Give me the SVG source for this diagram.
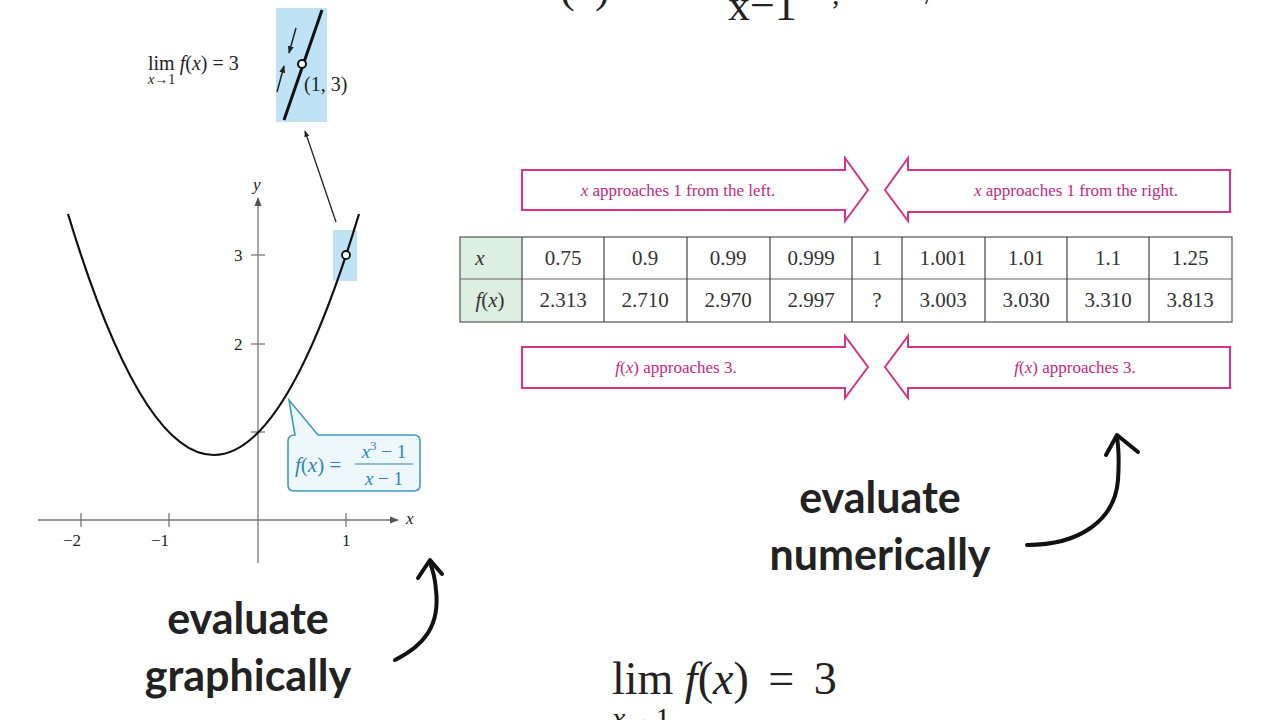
<svg xmlns="http://www.w3.org/2000/svg" width="1280" height="720" viewBox="0 0 1280 720">
<defs>
<style>
.s{font-family:"Liberation Serif",serif;fill:#222}
.i{font-style:italic}
.p{fill:none;stroke:#d6338a;stroke-width:2}
.pt{font-family:"Liberation Serif",serif;fill:#c8287f;font-size:17px}
.t{font-family:"Liberation Serif",serif;fill:#333;font-size:21px;text-anchor:middle}
.ax{stroke:#777;stroke-width:1.3;fill:none}
.big{font-family:Lato,"Open Sans",sans-serif;font-weight:bold;font-size:43px;fill:#222;text-anchor:middle}
.hand{fill:none;stroke:#111;stroke-width:4;stroke-linecap:round;stroke-linejoin:round}
</style>
<marker id="ah" viewBox="0 0 10 10" refX="9" refY="5" markerWidth="7" markerHeight="7" orient="auto"><path d="M0,1 L10,5 L0,9 Z" fill="#555"/></marker>
<marker id="sh" viewBox="0 0 10 10" refX="9" refY="5" markerWidth="5" markerHeight="5" orient="auto"><path d="M0,1 L10,5 L0,9 Z" fill="#222"/></marker>
</defs>
<rect width="1280" height="720" fill="#fff"/>
<g id="top-formula" class="s">
<text x="560" y="2" font-size="44">(</text>
<text x="595" y="2" font-size="44">)</text>
<text x="728" y="20" font-size="44">x−1</text>
<text x="832" y="4" font-size="30">,</text>
<text x="925" y="4" font-size="30">/</text>
</g>
<g id="inset">
<rect x="276" y="8" width="51" height="114" fill="#bfe3f5"/>
<line x1="284" y1="120" x2="322" y2="10" stroke="#111" stroke-width="3"/>
<circle cx="302" cy="64" r="4" fill="#fff" stroke="#111" stroke-width="2"/>
<line x1="296" y1="28" x2="289" y2="53" stroke="#222" stroke-width="1.5" marker-end="url(#sh)"/>
<line x1="277" y1="92" x2="284" y2="66" stroke="#222" stroke-width="1.5" marker-end="url(#sh)"/>
<text x="304" y="91" class="s" font-size="20">(1, 3)</text>
<text x="148" y="70" class="s" font-size="20">lim <tspan class="i">f</tspan>(<tspan class="i">x</tspan>) = 3</text>
<text x="148" y="84" class="s" font-size="14"><tspan class="i">x</tspan>→1</text>
</g>
<g id="graph">
<line x1="38" y1="520" x2="398" y2="520" class="ax" marker-end="url(#ah)"/>
<line x1="258" y1="563" x2="258" y2="198" class="ax" marker-end="url(#ah)"/>
<g class="ax"><line x1="81" y1="513" x2="81" y2="527"/><line x1="169" y1="513" x2="169" y2="527"/><line x1="346" y1="513" x2="346" y2="527"/><line x1="251" y1="255" x2="265" y2="255"/><line x1="251" y1="344" x2="265" y2="344"/><line x1="251" y1="432" x2="265" y2="432"/></g>
<text x="63" y="546" class="s" font-size="17" fill="#555">−2</text>
<text x="151" y="546" class="s" font-size="17">−1</text>
<text x="342" y="546" class="s" font-size="17">1</text>
<text x="234" y="261" class="s" font-size="17">3</text>
<text x="234" y="350" class="s" font-size="17">2</text>
<text x="406" y="524" class="s i" font-size="17">x</text>
<text x="253" y="190" class="s i" font-size="17">y</text>
<rect x="333" y="230" width="24" height="51" fill="#bfe3f5"/>
<path d="M68,214 Q214,696 359,214" fill="none" stroke="#111" stroke-width="2.2"/>
<circle cx="346" cy="255" r="4" fill="#fff" stroke="#111" stroke-width="1.8"/>
<line x1="336" y1="222" x2="305" y2="131" stroke="#222" stroke-width="1.3" marker-end="url(#sh)"/>
</g>
<g id="callout">
<path d="M295,435 L289,400 L318,435 L414,435 Q420,435 420,441 L420,485 Q420,491 414,491 L294,491 Q288,491 288,485 L288,441 Q288,435 295,435 Z" fill="#eef7fb" stroke="#3a9bc9" stroke-width="1.6"/>
<text x="295" y="472" font-family="Liberation Serif,serif" font-size="21" fill="#2a86b8"><tspan font-style="italic">f</tspan>(<tspan font-style="italic">x</tspan>) =</text>
<text x="384" y="458" font-family="Liberation Serif,serif" font-size="19" fill="#2a86b8" text-anchor="middle"><tspan font-style="italic">x</tspan><tspan dy="-8" font-size="13">3</tspan><tspan dy="8"> − 1</tspan></text>
<line x1="355" y1="464" x2="413" y2="464" stroke="#2a86b8" stroke-width="1.2"/>
<text x="384" y="485" font-family="Liberation Serif,serif" font-size="19" fill="#2a86b8" text-anchor="middle"><tspan font-style="italic">x</tspan> − 1</text>
</g>
<g id="arrows-top">
<path class="p" d="M522,170 L845,170 L845,158 L868,190 L845,221 L845,210 L522,210 Z"/>
<text x="678" y="196" class="pt" text-anchor="middle"><tspan font-style="italic">x</tspan> approaches 1 from the left.</text>
<path class="p" d="M1230,170 L908,170 L908,158 L885,190 L908,221 L908,212 L1230,212 Z"/>
<text x="1076" y="196" class="pt" text-anchor="middle"><tspan font-style="italic">x</tspan> approaches 1 from the right.</text>
</g>
<g id="table">
<rect x="460" y="237" width="62" height="85" fill="#dcefe0"/>
<rect x="460" y="237" width="772" height="85" fill="none" stroke="#555" stroke-width="1.2"/>
<line x1="460" y1="279" x2="1232" y2="279" stroke="#666"/>
<g stroke="#444" stroke-width="1.2">
<line x1="522" y1="237" x2="522" y2="322"/><line x1="604" y1="237" x2="604" y2="322"/><line x1="687" y1="237" x2="687" y2="322"/><line x1="770" y1="237" x2="770" y2="322"/><line x1="852" y1="237" x2="852" y2="322"/><line x1="902" y1="237" x2="902" y2="322"/><line x1="985" y1="237" x2="985" y2="322"/><line x1="1067" y1="237" x2="1067" y2="322"/><line x1="1149" y1="237" x2="1149" y2="322"/>
</g>
<text x="480" y="265" class="t i" text-anchor="middle">x</text>
<text x="490" y="307" class="t"><tspan font-style="italic">f</tspan>(<tspan font-style="italic">x</tspan>)</text>
<text x="563" y="265" class="t">0.75</text><text x="645" y="265" class="t">0.9</text><text x="728" y="265" class="t">0.99</text><text x="811" y="265" class="t">0.999</text><text x="877" y="265" class="t">1</text><text x="943" y="265" class="t">1.001</text><text x="1026" y="265" class="t">1.01</text><text x="1108" y="265" class="t">1.1</text><text x="1190" y="265" class="t">1.25</text>
<text x="563" y="307" class="t">2.313</text><text x="645" y="307" class="t">2.710</text><text x="728" y="307" class="t">2.970</text><text x="811" y="307" class="t">2.997</text><text x="877" y="307" class="t">?</text><text x="943" y="307" class="t">3.003</text><text x="1026" y="307" class="t">3.030</text><text x="1108" y="307" class="t">3.310</text><text x="1190" y="307" class="t">3.813</text>
</g>
<g id="arrows-bottom">
<path class="p" d="M522,347 L845,347 L845,336 L868,367 L845,398 L845,388 L522,388 Z"/>
<text x="676" y="373" class="pt" text-anchor="middle"><tspan font-style="italic">f</tspan>(<tspan font-style="italic">x</tspan>) approaches 3.</text>
<path class="p" d="M1230,347 L908,347 L908,336 L885,367 L908,398 L908,388 L1230,388 Z"/>
<text x="1075" y="373" class="pt" text-anchor="middle"><tspan font-style="italic">f</tspan>(<tspan font-style="italic">x</tspan>) approaches 3.</text>
</g>
<g id="label-graphical">
<text x="248" y="634" class="big">evaluate</text>
<text x="248" y="691" class="big">graphically</text>
<path class="hand" d="M395,660 C425,645 440,625 436,590 C435,578 433,570 430,563"/>
<path class="hand" d="M418,578 L430,560 L442,574"/>
</g>
<g id="label-numerical">
<text x="880" y="513" class="big">evaluate</text>
<text x="880" y="570" class="big">numerically</text>
<path class="hand" d="M1027,545 C1080,545 1115,520 1118,480 C1119,465 1119,450 1117,437"/>
<path class="hand" d="M1106,455 L1117,435 L1138,452"/>
</g>
<g id="bottom-limit" class="s">
<text x="612" y="694" font-size="46">lim <tspan class="i">f</tspan>(<tspan class="i">x</tspan>) <tspan dx="8">=</tspan> <tspan dx="8">3</tspan></text>
<text x="612" y="728" font-size="30"><tspan class="i">x</tspan>→1</text>
</g>
</svg>
